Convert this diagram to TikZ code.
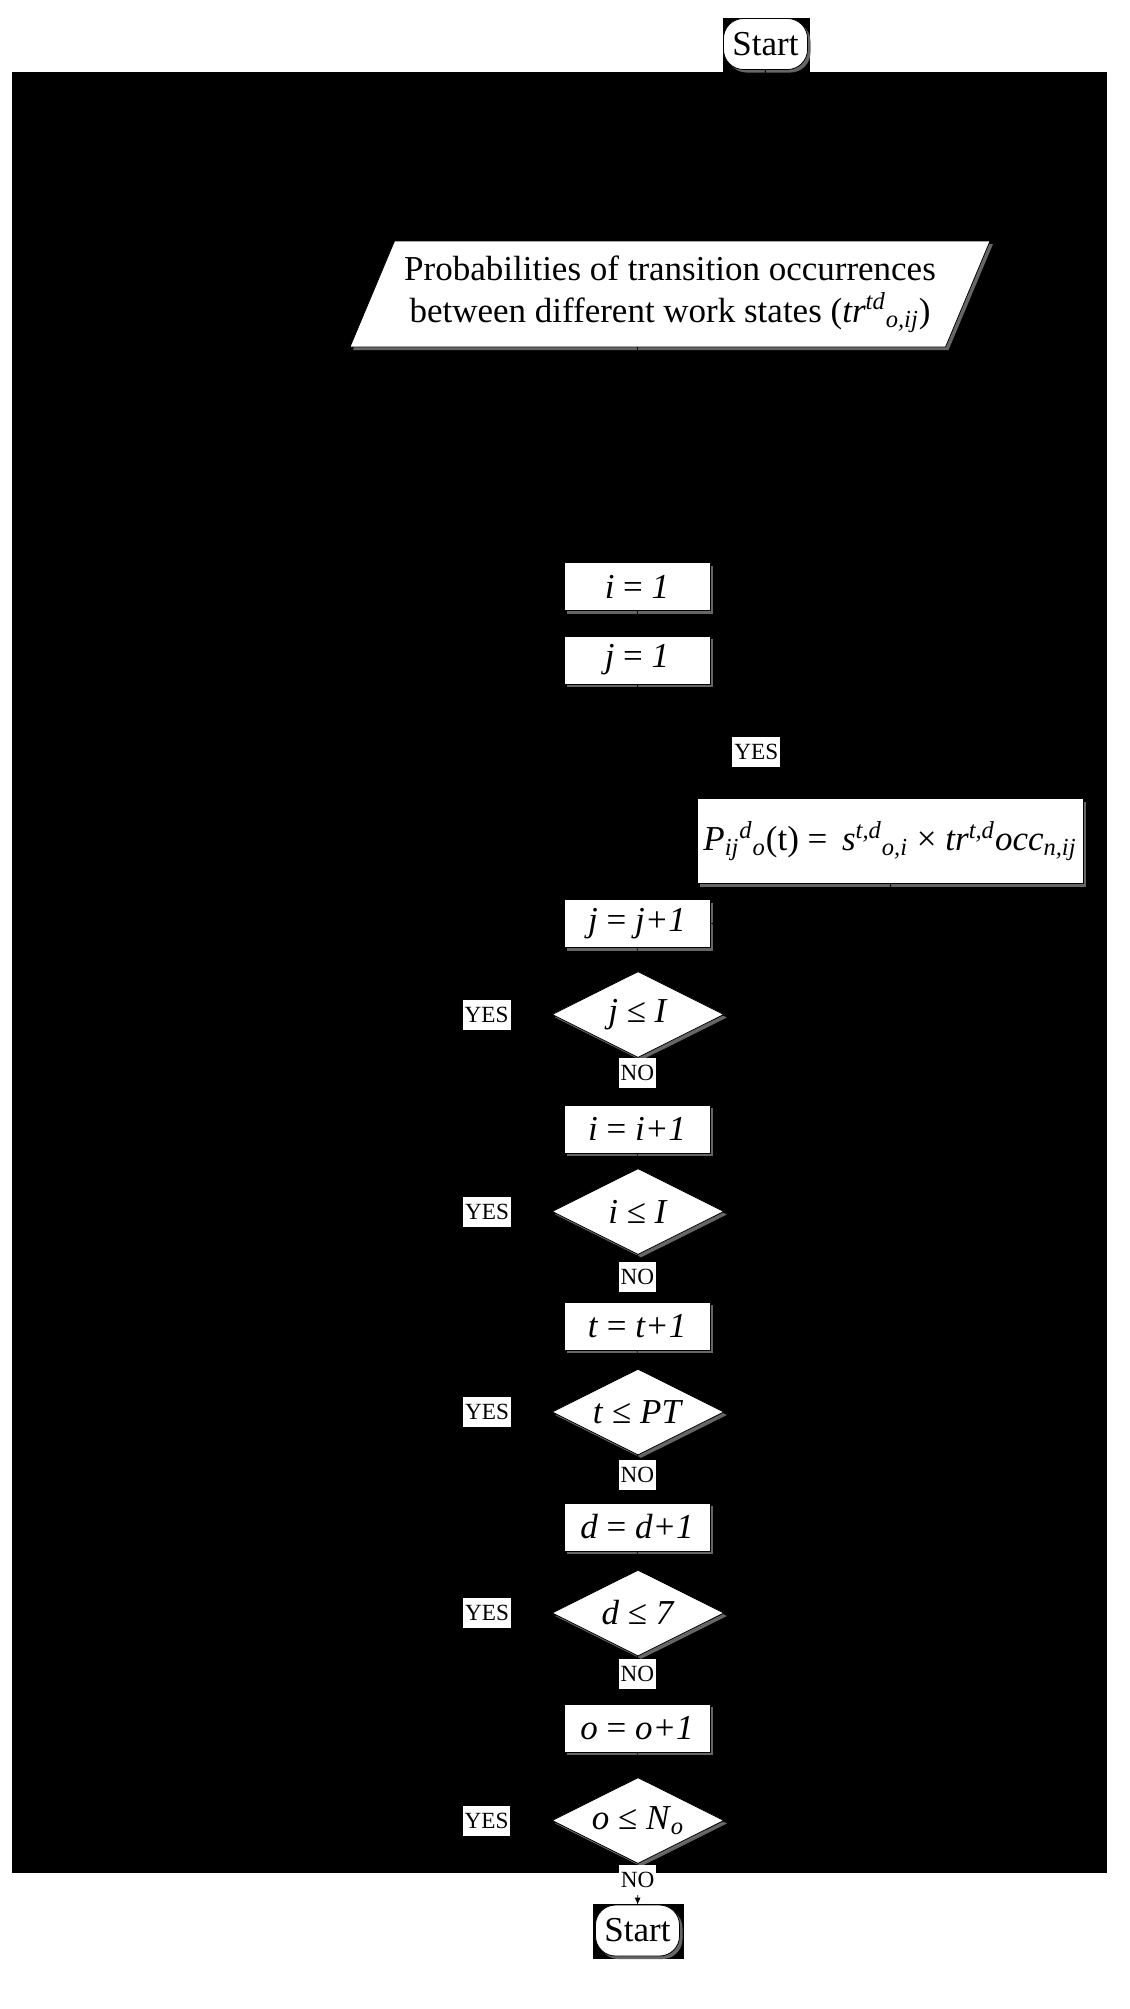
\documentclass[tikz,border=0pt]{standalone}
\usepackage{fontspec}
\setmainfont{Liberation Serif}
\usetikzlibrary{shapes.geometric,shadows,backgrounds,arrows.meta}
\newcommand{\flowfont}{\fontsize{17.5}{21}\selectfont}
\newcommand{\lblfont}{\fontsize{11.6}{13}\selectfont}

\begin{document}
\begin{tikzpicture}[x=0.5pt,y=-0.5pt,>={Latex[length=3.5pt,width=3pt]},
		shade/.style={drop shadow={shadow xshift=1.5pt,shadow yshift=-1.5pt,fill=black!60,opacity=1}},
		terminal/.style={shade,draw,fill=white,rounded corners=10pt,minimum width=42pt,minimum height=25.5pt,inner sep=0pt,font=\flowfont},
		process/.style={shade,draw,fill=white,minimum width=73pt,minimum height=24pt,inner sep=0pt,font=\flowfont},
		decision/.style={shade,draw,fill=white,diamond,aspect=2,minimum width=86pt,minimum height=43pt,inner sep=0pt,font=\flowfont},
		data/.style={shade,draw,fill=white,trapezium,trapezium left angle=60,trapezium right angle=120,trapezium stretches body,minimum width=320pt,minimum height=53pt,inner sep=0pt,align=center,font=\flowfont},
		lbl/.style={fill=white,inner xsep=1pt,inner ysep=0pt,minimum height=15pt,font=\lblfont}]

		\useasboundingbox (0,0) rectangle (1130,2009);

		% flow column
		\node[terminal] (start) at (765.5,44) {Start};
		\node[data] (para) at (670,294) {Probabilities of transition occurrences\\between different work states (\textit{tr}\textsuperscript{\textit{td}}\textsubscript{\textit{o,ij}})};
		\node[process] (ione) at (637,586.5) {\textit{i} = \textit{1}};
		\node[process] (jone) at (637,660) {\textit{j} = \textit{1}};
		\node[process,minimum width=193pt,minimum height=42.5pt] (prob) at (890,841) {\textit{P}\textsubscript{\textit{ij}}\textsuperscript{\textit{d}}\textsubscript{\textit{o}}(t) = \,\textit{s}\textsuperscript{\textit{t,d}}\textsubscript{\textit{o,i}} × \textit{tr}\textsuperscript{\textit{t,d}}\textit{occ}\textsubscript{\textit{n,ij}}};
		\node[process] (jinc) at (637,923.5) {\textit{j} = \textit{j+1}};
		\node[decision] (jdec) at (638,1014.5) {\textit{j} ≤ \textit{I}};
		\node[process] (iinc) at (637,1129) {\textit{i} = \textit{i+1}};
		\node[decision] (idec) at (638,1211.5) {\textit{i} ≤ \textit{I}};
		\node[process] (tinc) at (637,1326) {\textit{t} = \textit{t+1}};
		\node[decision] (tdec) at (638,1412) {\textit{t} ≤ \textit{PT}};
		\node[process] (dinc) at (637,1527) {\textit{d} = \textit{d+1}};
		\node[decision] (ddec) at (638,1613) {\textit{d} ≤ \textit{7}};
		\node[process] (oinc) at (637,1728) {\textit{o} = \textit{o+1}};
		\node[decision] (odec) at (638,1820.5) {\textit{o} ≤ \textit{N}\textsubscript{\textit{o}}};
		\node[terminal] (stop) at (637.5,1930.5) {Start};

		% free ends
		\coordinate (startout) at (765,150);
		\coordinate (paraout) at (637,420);
		\coordinate (jtop) at (637,709);
		\coordinate (jtest) at (723,752);
		\coordinate (iloop) at (637,623);
		\coordinate (tloop) at (637,540);
		\coordinate (dloop) at (637,500);
		\coordinate (oloop) at (637,460);

		\begin{scope}[on background layer]
			\fill[black] (12,72) rectangle (1107,1873);
			\fill[black] (start.north west) rectangle ([xshift=1pt,yshift=-1pt]start.south east);
			\fill[black] ([xshift=-1pt,yshift=0.5pt]stop.north west) rectangle ([xshift=2pt,yshift=-1.5pt]stop.south east);
		\end{scope}

		\draw [thin] (start) -- (startout);
		\draw [thin] (para.south -| ione) -- (paraout);
		\draw [thin][->] (ione) -- (jone);
		\draw [thin][->] (jone) -- (jtop);
		\draw [thin][->] (jtest) -- node[lbl,pos=0.2]{YES} (jtest -| prob) -- (prob);
		\draw [thin][->] (prob) |- (jinc);
		\draw [thin][->] (jinc) -- (jdec);
		\draw [thin][->] (jdec) -- node[lbl,pos=0.32]{NO} (iinc);
		\draw [thin][->] (iinc) -- (idec);
		\draw [thin][->] (idec) -- node[lbl,pos=0.48]{NO} (tinc);
		\draw [thin][->] (tinc) -- (tdec);
		\draw [thin][->] (tdec) -- node[lbl,pos=0.42]{NO} (dinc);
		\draw [thin][->] (dinc) -- (ddec);
		\draw [thin][->] (ddec) -- node[lbl,pos=0.38]{NO} (oinc);
		\draw [thin][->] (oinc) -- (odec);
		\draw [thin][->] (odec) -- node[lbl,pos=0.4]{NO} (stop);

		% YES loops
		\draw [thin][->] (jdec.west) -- node[lbl,pos=0.5]{YES} ++(-130,0) |- (jtop);
		\draw [thin][->] (idec.west) -- node[lbl,pos=0.43]{YES} ++(-150,0) |- (iloop);
		\draw [thin][->] (tdec.west) -- node[lbl,pos=0.38]{YES} ++(-170,0) |- (tloop);
		\draw [thin][->] (ddec.west) -- node[lbl,pos=0.34]{YES} ++(-190,0) |- (dloop);
		\draw [thin][->] (odec.west) -- node[lbl,pos=0.31]{YES} ++(-210,0) |- (oloop);

\end{tikzpicture}
\end{document}
